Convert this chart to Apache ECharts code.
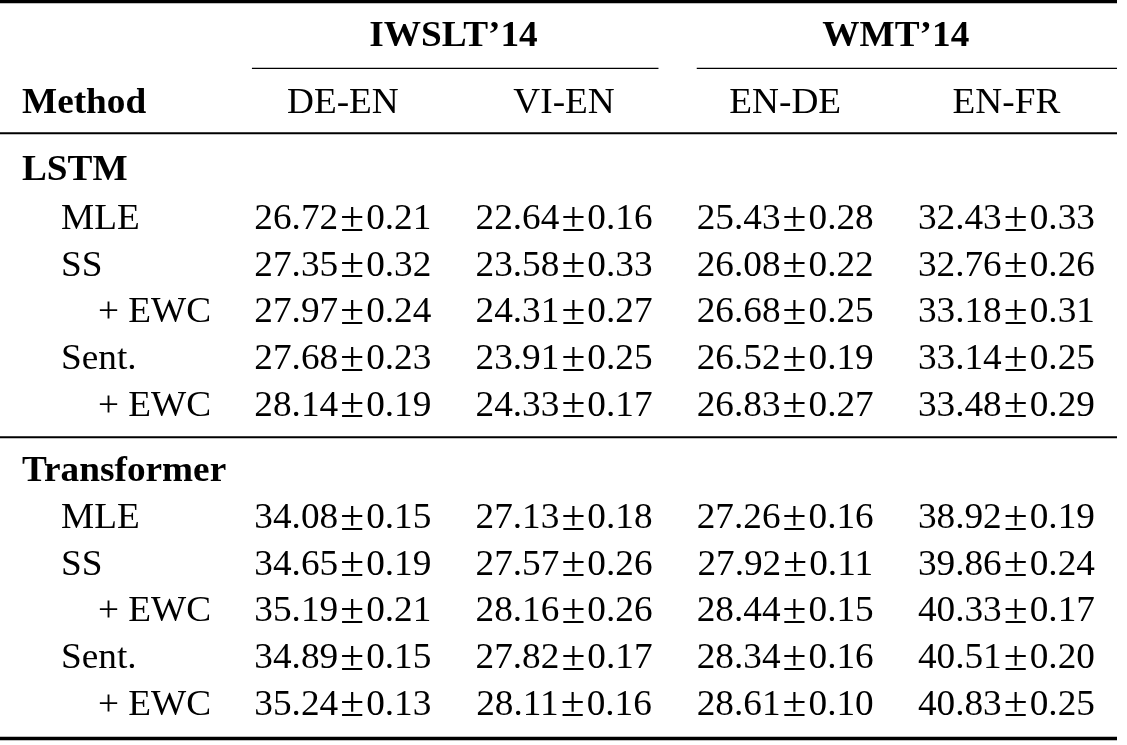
<!DOCTYPE html>
<html>
<head>
<meta charset="utf-8">
<script src="https://cdn.jsdelivr.net/npm/echarts@6/dist/echarts.min.js"></script>
<style>
html, body { margin: 0; padding: 0; background: #ffffff; }
#chart { width: 1127px; height: 745px; }
</style>
</head>
<body>
<div id="chart"></div>
<script>
// ---------------- data ----------------
const groups = ['IWSLT\u201914', 'WMT\u201914'];
const groupSpan = [[1, 2], [3, 4]];          // which language-pair columns each group covers
const pairs = ['DE-EN', 'VI-EN', 'EN-DE', 'EN-FR'];
const methodHeader = 'Method';
const models = ['LSTM', 'Transformer'];
const methods = ['MLE', 'SS', '+ EWC', 'Sent.', '+ EWC'];
const methodLevel = [1, 1, 2, 1, 2];

const lstmMean = [
  [26.72, 22.64, 25.43, 32.43],
  [27.35, 23.58, 26.08, 32.76],
  [27.97, 24.31, 26.68, 33.18],
  [27.68, 23.91, 26.52, 33.14],
  [28.14, 24.33, 26.83, 33.48]
];
const lstmStd = [
  [0.21, 0.16, 0.28, 0.33],
  [0.32, 0.33, 0.22, 0.26],
  [0.24, 0.27, 0.25, 0.31],
  [0.23, 0.25, 0.19, 0.25],
  [0.19, 0.17, 0.27, 0.29]
];
const transformerMean = [
  [34.08, 27.13, 27.26, 38.92],
  [34.65, 27.57, 27.92, 39.86],
  [35.19, 28.16, 28.44, 40.33],
  [34.89, 27.82, 28.34, 40.51],
  [35.24, 28.11, 28.61, 40.83]
];
const transformerStd = [
  [0.15, 0.18, 0.16, 0.19],
  [0.19, 0.26, 0.11, 0.24],
  [0.21, 0.26, 0.15, 0.17],
  [0.15, 0.17, 0.16, 0.20],
  [0.13, 0.16, 0.10, 0.25]
];
const modelMeans = [lstmMean, transformerMean];
const modelStds = [lstmStd, transformerStd];

// ---------------- layout (axis units) ----------------
const X_MIN = -0.55, X_MAX = 4.5;          // x axis: column index, 0 = Method column
const Y_MAX = 745 / 46.7;                  // y axis: text-line units
const GROUP_Y = 1.0;
const HEADER_Y = 2.42;
const SECTION_Y = [3.854, 10.315];
const FIRST_ROW_Y = [4.91, 11.313];
const ROW_STEP = 1.0;
const CMID_Y = 1.4625;
const RULES = [
  { x0: X_MIN, x1: X_MAX, y: 0.032, w: 3.5 },
  { x0: 0.589, x1: 2.427, y: CMID_Y, w: 1.3 },
  { x0: 2.6, x1: X_MAX, y: CMID_Y, w: 1.3 },
  { x0: X_MIN, x1: X_MAX, y: 2.854, w: 2 },
  { x0: X_MIN, x1: X_MAX, y: 9.364, w: 2 },
  { x0: X_MIN, x1: X_MAX, y: 15.814, w: 3.5 }
];

// ---------------- style ----------------
const FONT_FAMILY = "'Liberation Serif', 'Times New Roman', serif";
const FONT_SIZE = 36;
const SCALE_X = 1.035;
const BASE_SHIFT = 0.27 * FONT_SIZE;       // baseline -> middle
const LABEL_LEFT = 22;                     // px from table edge
const INDENT = [0, 39, 76];
const PM_WIDTH = 27;
const PM_SIZE = 42;

// ---------------- build cells ----------------
const cells = [];
groups.forEach((g, i) => {
  cells.push({ x: (groupSpan[i][0] + groupSpan[i][1]) / 2, y: GROUP_Y, text: g, bold: true, align: 'center' });
});
cells.push({ x: X_MIN, y: HEADER_Y, text: methodHeader, bold: true, align: 'left', level: 0 });
pairs.forEach((p, j) => {
  cells.push({ x: j + 1, y: HEADER_Y, text: p, bold: false, align: 'center' });
});
models.forEach((m, s) => {
  cells.push({ x: X_MIN, y: SECTION_Y[s], text: m, bold: true, align: 'left', level: 0 });
  methods.forEach((name, r) => {
    const y = FIRST_ROW_Y[s] + r * ROW_STEP;
    cells.push({ x: X_MIN, y: y, text: name, bold: false, align: 'left', level: methodLevel[r] });
    pairs.forEach((p, j) => {
      cells.push({
        x: j + 1, y: y, align: 'center', bold: false,
        text: '{n|' + modelMeans[s][r][j].toFixed(2) + '}{pm|\u00B1}{n|' + modelStds[s][r][j].toFixed(2) + '}',
        rich: true
      });
    });
  });
});

const fontOf = (bold, size) => (bold ? 'bold ' : '') + size + 'px ' + FONT_FAMILY;

const chart = echarts.init(document.getElementById('chart'));
chart.setOption({
  backgroundColor: '#ffffff',
  animation: false,
  grid: { left: 0, right: 10, top: 0, bottom: 0 },
  xAxis: { type: 'value', min: X_MIN, max: X_MAX, show: false },
  yAxis: { type: 'value', min: 0, max: Y_MAX, inverse: true, show: false },
  series: [
    {
      type: 'custom',
      clip: false,
      data: RULES.map(r => [r.x0, r.x1, r.y, r.w]),
      renderItem: function (params, api) {
        const p0 = api.coord([api.value(0), api.value(2)]);
        const p1 = api.coord([api.value(1), api.value(2)]);
        return {
          type: 'line',
          shape: { x1: p0[0], y1: p0[1], x2: p1[0], y2: p1[1] },
          style: { stroke: '#000000', lineWidth: api.value(3) }
        };
      }
    },
    {
      type: 'custom',
      clip: false,
      data: cells.map((c, i) => [c.x, c.y, i]),
      renderItem: function (params, api) {
        const c = cells[params.dataIndex];
        const p = api.coord([api.value(0), api.value(1)]);
        let x = p[0];
        if (c.align === 'left') x = p[0] + LABEL_LEFT + INDENT[c.level];
        const style = {
          text: c.text,
          fill: '#000000',
          font: fontOf(c.bold, FONT_SIZE),
          align: c.align,
          verticalAlign: 'middle'
        };
        if (c.rich) {
          style.rich = {
            n: { font: fontOf(false, FONT_SIZE), fill: '#000000' },
            pm: { font: fontOf(false, PM_SIZE), fill: '#000000', width: PM_WIDTH, align: 'center' }
          };
        }
        return {
          type: 'text',
          x: x,
          y: p[1] - BASE_SHIFT,
          scaleX: SCALE_X,
          style: style
        };
      }
    }
  ]
});
</script>
</body>
</html>
